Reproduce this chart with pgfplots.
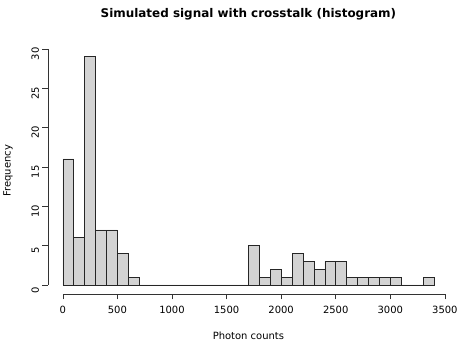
\documentclass[border=0pt]{standalone}
\usepackage{pgfplots}
\pgfplotsset{compat=1.18}
\usepackage{fontspec}
\setmainfont{DejaVu Sans}
\begin{document}
\begin{tikzpicture}
\useasboundingbox (0,0) rectangle (474bp,355bp);
\begin{axis}[
  at={(48bp,61bp)}, anchor=south west,
  scale only axis, width=400.8bp, height=246.4bp,
  xmin=-136, xmax=3536, ymin=-1.16, ymax=30.16,
  clip=false,
  separate axis lines,
  axis x line*=bottom, axis y line*=left,
  x axis line style={draw=none}, y axis line style={draw=none},
  xtick={0,500,...,3500}, ytick={0,5,...,30},
  tick align=outside, major tick length=5.5bp,
  tick style={black!80, line width=0.6pt},
  /pgf/number format/assume math mode=true,
  /pgf/number format/1000 sep={},
  tick label style={font=\fontsize{10}{11}\selectfont},
  xticklabel style={yshift=-3bp},
  yticklabel style={rotate=90, anchor=south, xshift=-5bp},
  title={Simulated signal with crosstalk (histogram)},
  title style={font=\fontsize{12}{13}\selectfont\bfseries, at={(rel axis cs:0.5,1)}, anchor=center, yshift=27bp},
  xlabel={Photon counts},
  xlabel style={font=\fontsize{10}{11}\selectfont, at={(axis description cs:0.5,-0.17)}, anchor=center},
  ylabel={Frequency},
  ylabel style={font=\fontsize{10}{11}\selectfont, at={(axis description cs:-0.1,0.5)}, anchor=center},
]
\addplot[ybar interval, fill={rgb,255:red,211;green,211;blue,211}, draw=black!85, line width=0.6pt] coordinates {
(0,16) (100,6) (200,29) (300,7) (400,7) (500,4) (600,1) (700,0) (800,0) (900,0)
(1000,0) (1100,0) (1200,0) (1300,0) (1400,0) (1500,0) (1600,0) (1700,5) (1800,1) (1900,2)
(2000,1) (2100,4) (2200,3) (2300,2) (2400,3) (2500,3) (2600,1) (2700,1) (2800,1) (2900,1)
(3000,1) (3100,0) (3200,0) (3300,1) (3400,1)
};
\draw[black!80, line width=0.6pt] (axis cs:0,-1.16) -- (axis cs:3500,-1.16);
\draw[black!80, line width=0.6pt] (axis cs:-136,0) -- (axis cs:-136,30);
\end{axis}
\end{tikzpicture}
\end{document}
